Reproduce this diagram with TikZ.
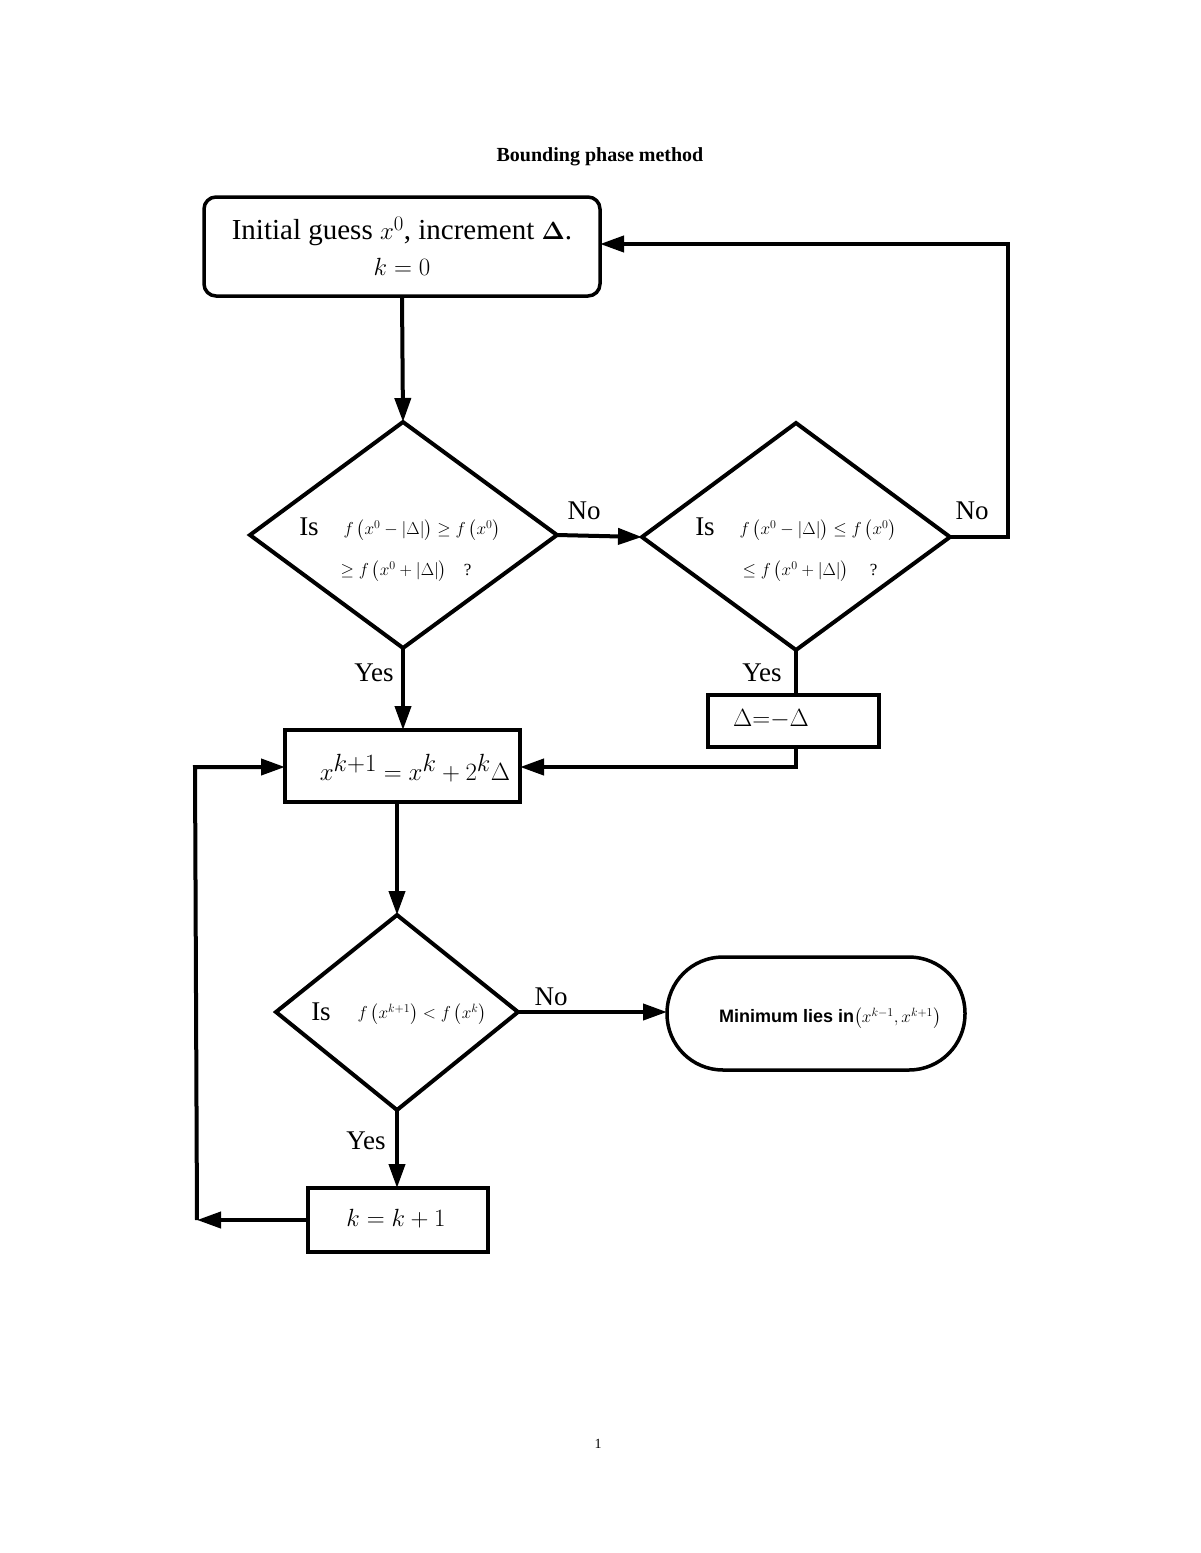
\documentclass[tikz,border=0pt]{standalone}
\usepackage{amsmath}
\usepackage{fontspec}
\setmainfont{Liberation Serif}
\newfontfamily\arialf{Liberation Sans}
\usetikzlibrary{arrows.meta,shapes.geometric,calc}
\begin{document}
\begin{tikzpicture}[x=1pt,y=-1pt,
  line width=4pt,
  arr/.style={-{Triangle[length=24pt,width=16pt]}},
  box/.style={draw,line width=3.5pt,inner sep=0pt},
  lab/.style={font=\fontsize{27}{30}\selectfont},
  small/.style={font=\fontsize{17}{20}\selectfont}]
\useasboundingbox (0,0) rectangle (1200,1553);
\node[font=\bfseries\fontsize{20}{24}\selectfont] (title) at (600,157) {Bounding phase method};
\node[font=\fontsize{14}{16}\selectfont] (pg) at (598,1444) {1};
\draw[box,rounded corners=12pt] (204,197) rectangle (600,296);
\node[font=\fontsize{29}{36}\selectfont,align=center] (b1t) at (402,246) {Initial guess $x^0$, increment $\boldsymbol{\Delta}$.\\ $k=0$};
\draw (250,535) -- (403,422) -- (557,535) -- (403,648) -- cycle;
\draw (642,537) -- (796,423) -- (950,537) -- (796,650) -- cycle;
\node[lab] (is1) at (309,527) {Is};
\node[small] (t1a) at (422,530) {$f\left(x^0-|\Delta|\right)\ge f\left(x^0\right)$};
\node[small] (t1b) at (406,571) {$\ge f\left(x^0+|\Delta|\right)$\quad ?};
\node[lab] (is2) at (705,527) {Is};
\node[small] (t2a) at (818,530) {$f\left(x^0-|\Delta|\right)\le f\left(x^0\right)$};
\node[small] (t2b) at (810,571) {$\le f\left(x^0+|\Delta|\right)$\quad\ ?};
\draw[arr] (557,535) -- (642,537);
\node[lab] (no1) at (584,511) {No};
\node[lab] (no2) at (972,511) {No};
\coordinate (r1) at (1008,537);
\draw[arr] (950,537) -- (r1) |- (600,244);
\draw[arr] (402,296) -- (403,422);
\node[lab] (yes1) at (374,673) {Yes};
\draw[arr] (403,648) -- (403,730);
\draw[box] (285,730) rectangle (520,802);
\node[font=\fontsize{34}{36}\selectfont] (b2) at (415,768) {$x^{k+1}=x^k+2^k\Delta$};
\node[lab] (yes2) at (762,673) {Yes};
\draw (796,650) -- (796,695);
\draw[box] (708,695) rectangle (879,747);
\node[font=\fontsize{28}{30}\selectfont] (b4) at (771,719) {$\Delta{=}{-}\Delta$};
\draw[arr] (796,747) |- (520,767);
\draw[arr] (397,802) -- (397,915);
\draw (276,1012) -- (397,915) -- (518,1012) -- (397,1110) -- cycle;
\node[lab] (is3) at (321,1012) {Is};
\node[small] (t3) at (422,1014) {$f\left(x^{k+1}\right)<f\left(x^k\right)$};
\node[lab] (no3) at (551,997) {No};
\draw[arr] (518,1012) -- (667,1012);
\draw[box,rounded corners=56pt] (667,957) rectangle (965,1070);
\node[font=\arialf\bfseries\fontsize{18}{20}\selectfont] (b5) at (830,1018) {Minimum lies in$\left(x^{k-1},x^{k+1}\right)$};
\node[lab] (yes3) at (366,1141) {Yes};
\draw[arr] (397,1110) -- (397,1188);
\draw[box] (308,1188) rectangle (488,1252);
\node[font=\fontsize{30}{32}\selectfont] (b3) at (396,1219) {$k=k+1$};
\coordinate (c1) at (197,1220);
\draw[arr] (308,1220) -- (c1);
\draw[arr] (197,1220) -- (195,767) -- (285,767);
\end{tikzpicture}
\end{document}
